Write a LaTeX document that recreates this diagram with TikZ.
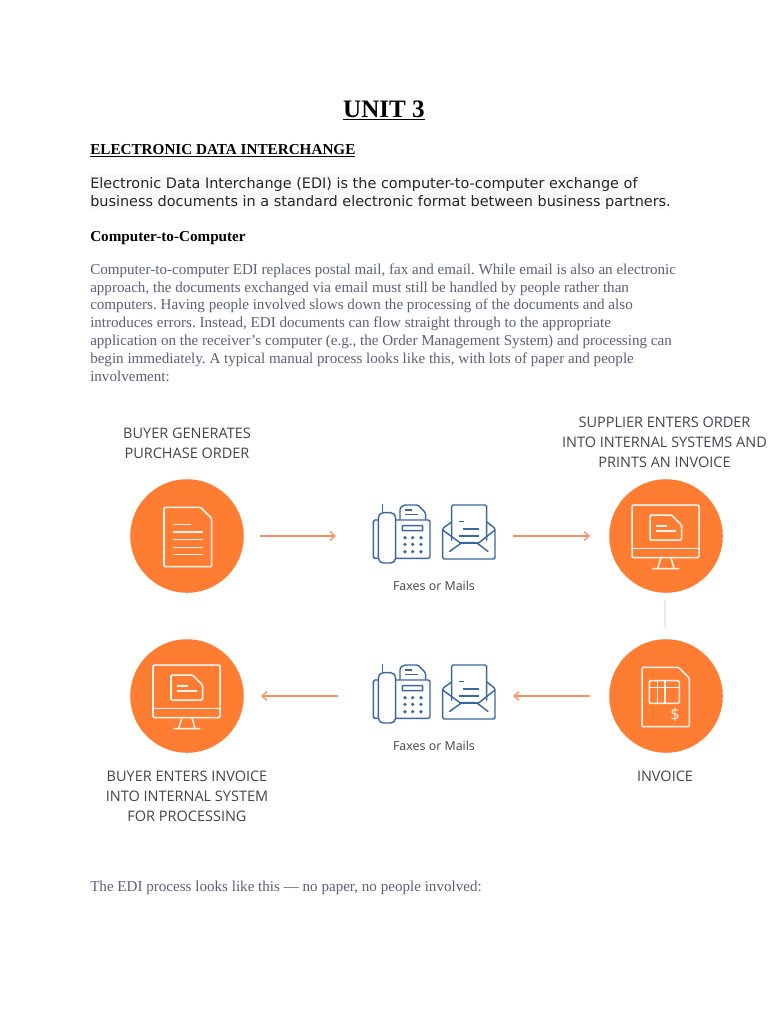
\documentclass[tikz,border=0pt]{standalone}
\usepackage{fontspec}
\setmainfont{Liberation Serif}
\newfontfamily\labelfont{Open Sans}
\newfontfamily\edifont{DejaVu Sans}
\usetikzlibrary{arrows.meta}
\definecolor{orangefill}{HTML}{FF7D33}
\definecolor{arrowline}{HTML}{FA9060}
\definecolor{iconblue}{HTML}{3A66A4}
\definecolor{bodygray}{HTML}{5C6075}
\definecolor{labelgray}{HTML}{42454D}
\definecolor{hilite}{HTML}{F8F9FA}
\definecolor{iconwhite}{HTML}{FFF6F0}
\tikzset{
  x=0.796875pt,y=-0.796875pt,
  bodytext/.style={anchor=base west,inner sep=0pt,text=bodygray,font=\fontsize{12.02}{14}\selectfont\frenchspacing},
  headtext/.style={anchor=base west,inner sep=0pt,text=black,font=\fontsize{12.1}{14}\selectfont\bfseries},
  edistyle/.style={anchor=base west,inner sep=0pt,text=black!85,font=\fontsize{11.5}{13}\edifont},
  steplabel/.style={anchor=base,inner sep=0pt,text=labelgray,font=\fontsize{11.55}{13}\labelfont},
  faxlabel/.style={anchor=base,inner sep=0pt,text=labelgray,font=\fontsize{9.9}{11}\labelfont},
  disc/.style={circle,fill=orangefill,draw=none,minimum size=90.5pt,inner sep=0pt},
  flowarrow/.style={draw=arrowline,line width=1pt,-{Straight Barb[length=4pt,width=7pt]}},
  wicon/.style={draw=iconwhite,line width=1.2pt,rounded corners=1pt,line join=round},
  bicon/.style={draw=iconblue,line width=1.15pt,rounded corners=1.2pt,line join=round},
  pics/monitor/.style={code={
    \draw[wicon] (-34,-31) rectangle (33,21.5);
    \draw[wicon] (-34,12.5) -- (33,12.5);
    \draw[wicon] (-16,-21) -- (5.5,-21) -- (15.5,-11) -- (15.5,4) -- (-16,4) -- cycle;
    \draw[wicon] (-10,-10) -- (0.5,-10) (-10,-5) -- (10,-5);
    \draw[wicon] (-5,21.5) -- (-8.5,32.7) (5,21.5) -- (8,32.7) (-13.7,32.7) -- (13.3,32.7);
  }},
  pics/faxmail/.style={code={
    % handset
    \draw[bicon,rounded corners=4pt] (378.3,-23.3) rectangle (395.7,27);
    \draw[bicon] (382.7,-31.7) -- (382.7,-23.3);
    % fax body
    \draw[bicon] (378.3,-16) -- (373.3,-16) -- (373.3,22.3) -- (378.3,22.3);
    \draw[bicon] (395.7,-16) -- (430,-16) -- (430,22.3) -- (395.7,22.3);
    \draw[bicon,rounded corners=0.5pt] (402.3,-10.3) rectangle (422.7,-5.3);
    \foreach \dx in {405,412.7,421} \foreach \dy in {1.7,8.3,15.7}
      \fill[iconblue] (\dx,\dy) circle (1.8);
    % paper
    \draw[bicon] (400,-16) -- (400,-28) -- (404,-31) -- (418,-31) -- (425.7,-23) -- (425.7,-16);
    \draw[bicon] (405,-26) -- (412.3,-26) (405,-21.7) -- (418.3,-21.7);
    % envelope
    \draw[bicon] (451.7,-14) -- (442.7,-7.7) -- (442.7,23) -- (495,23) -- (495,-7.7) -- (486.7,-14);
    \draw[bicon] (451.7,4.7) -- (451.7,-31) -- (486.7,-31) -- (486.7,4.7);
    \draw[bicon] (442.7,-6) -- (460,6.7) (495,-6) -- (479,6.7);
    \draw[bicon] (449.3,15.7) -- (461.7,6.7) -- (476.7,6.7) -- (488.3,15.7);
    \draw[bicon] (459,-14.3) -- (464,-14.3) (463.3,-7) -- (479.3,-7) (459,0) -- (479.3,0) (459,7) -- (479.3,7);
  }}
}
\begin{document}
\begin{tikzpicture}
\useasboundingbox (0,0) rectangle (768,1024);
\fill[white] (0,0) rectangle (768,1024);
% document text
\node[anchor=base,inner sep=0pt,font=\fontsize{20}{22}\selectfont\bfseries] (title) at (384,117) {\underline{UNIT 3}};
\node[headtext] (head) at (90,154) {\underline{ELECTRONIC DATA INTERCHANGE}};
\fill[hilite] (90,174) rectangle (640,192);
\fill[hilite] (90,192) rectangle (666,210);
\node[edistyle] (edia) at (90,188) {Electronic Data Interchange (EDI) is the computer-to-computer exchange of};
\node[edistyle] (edib) at (90,206) {business documents in a standard electronic format between business partners.};
\node[headtext] (sub) at (90,241) {Computer-to-Computer};
\node[bodytext] (l1) at (90,274) {Computer-to-computer EDI replaces postal mail, fax and email. While email is also an electronic};
\node[bodytext] (l2) at (90,292) {approach, the documents exchanged via email must still be handled by people rather than};
\node[bodytext] (l3) at (90,309) {computers. Having people involved slows down the processing of the documents and also};
\node[bodytext] (l4) at (90,327) {introduces errors. Instead, EDI documents can flow straight through to the appropriate};
\node[bodytext] (l5) at (90,345) {application on the receiver’s computer (e.g., the Order Management System) and processing can};
\node[bodytext] (l6) at (90,363) {begin immediately. A typical manual process looks like this, with lots of paper and people};
\node[bodytext] (l7) at (90,381) {involvement:};
\node[bodytext] (l8) at (90,891) {The EDI process looks like this — no paper, no people involved:};
% step labels
\node[steplabel] (t1a) at (187,438) {BUYER GENERATES};
\node[steplabel] (t1b) at (187,458) {PURCHASE ORDER};
\node[steplabel] (t2a) at (664.5,427) {SUPPLIER ENTERS ORDER};
\node[steplabel] (t2b) at (664.5,447) {INTO INTERNAL SYSTEMS AND};
\node[steplabel] (t2c) at (664.5,467) {PRINTS AN INVOICE};
\node[steplabel] (t3) at (665,781) {INVOICE};
\node[steplabel] (t4a) at (187,781) {BUYER ENTERS INVOICE};
\node[steplabel] (t4b) at (187,801) {INTO INTERNAL SYSTEM};
\node[steplabel] (t4c) at (187,821) {FOR PROCESSING};
\node[faxlabel] (f1) at (434,590) {Faxes or Mails};
\node[faxlabel] (f2) at (434,750) {Faxes or Mails};
% discs
\node[disc] (buyer) at (187,536) {};
\node[disc] (supplier) at (666,536) {};
\node[disc] (invoice) at (666,696) {};
\node[disc] (entry) at (187,696) {};
% connector between the right discs
\coordinate (gs) at (665,600);
\coordinate (ge) at (665,628);
\draw[draw=black!8,line width=2.2pt] (gs) -- (ge);
% arrows
\coordinate (a1s) at (260,536); \coordinate (a1e) at (336,536);
\coordinate (a2s) at (513,536); \coordinate (a2e) at (590,536);
\coordinate (a3s) at (590,696); \coordinate (a3e) at (513,696);
\coordinate (a4s) at (338,696); \coordinate (a4e) at (261,696);
\draw[flowarrow] (a1s) -- (a1e);
\draw[flowarrow] (a2s) -- (a2e);
\draw[flowarrow] (a3s) -- (a3e);
\draw[flowarrow] (a4s) -- (a4e);
% icons
\pic at (0,536) {faxmail};
\pic at (0,696) {faxmail};
\pic at (666,536) {monitor};
\pic at (187,696) {monitor};
% buyer document
\draw[wicon] (164,507.3) -- (200.5,507.3) -- (211.7,518.5) -- (211.7,566.7) -- (164,566.7) -- cycle;
\draw[wicon] (172.7,524.3) -- (190.7,524.3)
  (172.7,532) -- (202.7,532) (172.7,539.7) -- (202.7,539.7)
  (172.7,547.3) -- (202.7,547.3) (172.7,554.7) -- (202.7,554.7);
% invoice document
\draw[wicon] (642,667.3) -- (678.5,667.3) -- (689.3,678) -- (689.3,726.7) -- (642,726.7) -- cycle;
\draw[wicon] (649.3,680.7) rectangle (679.3,703.3);
\draw[wicon] (649.3,687.3) -- (679.3,687.3) (657.3,680.7) -- (657.3,703.3) (665,680.7) -- (665,703.3);
\node[inner sep=0pt,text=iconwhite,font=\fontsize{13}{13}\labelfont] (dollar) at (675,715) {\$};
\end{tikzpicture}
\end{document}
